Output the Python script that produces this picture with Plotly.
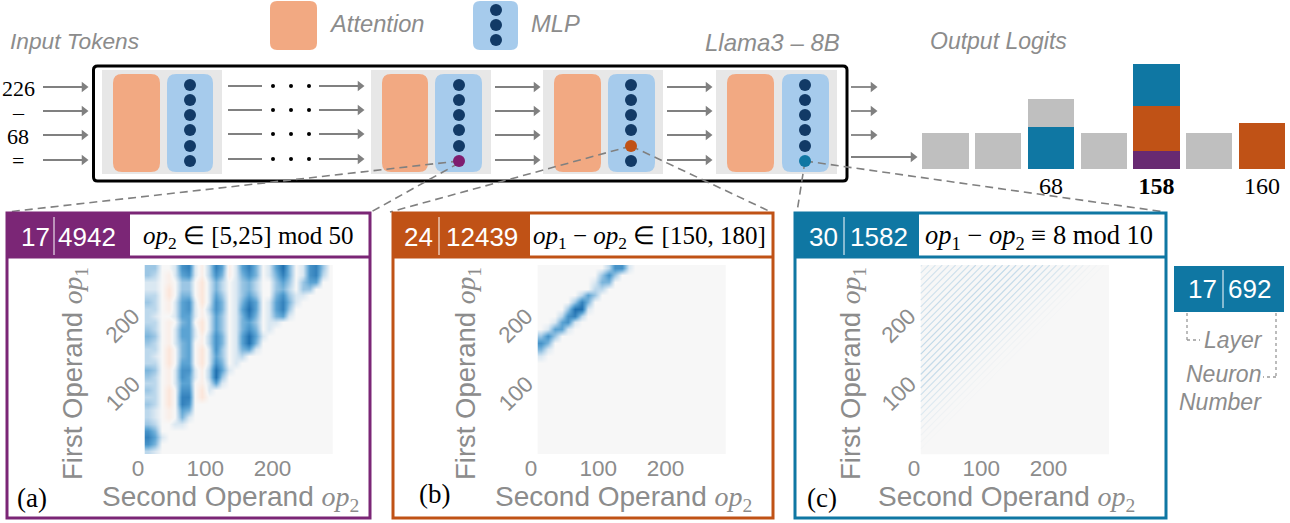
import plotly.graph_objects as go

W, H = 1290, 523

# logit bars (stack heights)
logit_pos = [0, 1, 2, 3, 4, 5, 6]
logit_purple = [0, 0, 0, 0, 1.8, 0, 0]
logit_orange = [0, 0, 0, 0, 4.5, 0, 4.6]
logit_blue = [0, 0, 4.2, 0, 4.2, 0, 0]
logit_grey = [3.6, 3.6, 2.8, 3.6, 0, 3.6, 0]
logit_tickvals = [2, 4, 6]
logit_ticktext = ['68', '<b>158</b>', '160']

# heatmap grid, op values at cell centres
op2_cells = [15, 25, 35, 45, 55, 65, 75, 85, 95, 105, 115, 125, 135, 145, 155, 165, 175, 185, 195, 205, 215, 225, 235, 245, 255, 265, 275, 285]
op1_cells = [285, 275, 265, 255, 245, 235, 225, 215, 205, 195, 185, 175, 165, 155, 145, 135, 125, 115, 105, 95, 85, 75, 65, 55, 45, 35, 25, 15]

# neuron (a), rows top to bottom, missing cells on the right are 0
neuron_a = [
    [3, 3, 0, 0, 1, 6, 7, 1, -1, 2, 7, 5, -1, 1, 5, 7, 4, 0, 1, 5, 8, 4, 0, 1, 6, 7, 3],
    [3, 2, 0, -1, 1, 5, 6, 1, -1, 2, 6, 4, -1, 1, 4, 6, 4, 0, 1, 4, 7, 4, 0, 1, 6, 7, 2],
    [1, 1, 0, -1, 0, 3, 3, 0, -2, 1, 4, 2, 0, 1, 3, 4, 2, 0, 0, 3, 5, 3, 0, 3, 5, 5],
    [1, 1, 0, -2, 0, 3, 3, 0, -2, 1, 4, 2, 0, 1, 3, 4, 2, 0, 0, 3, 4, 2, 0, 3, 3],
    [2, 2, 0, -2, 0, 4, 4, 0, -2, 1, 5, 3, 0, 1, 3, 5, 3, 0, 0, 4, 6, 3, 1, 1],
    [3, 2, 0, -1, 1, 5, 6, 1, -2, 1, 6, 4, 0, 1, 4, 7, 5, 0, 1, 5, 7, 4, 1],
    [2, 2, 0, -1, 1, 5, 6, 1, -1, 2, 6, 4, 0, 1, 5, 8, 5, 0, 1, 5, 7, 3],
    [2, 1, 0, 0, 1, 5, 5, 1, -1, 1, 5, 3, 0, 1, 4, 7, 4, 0, 1, 4, 5, 1],
    [2, 2, 0, -1, 0, 4, 5, 0, -2, 1, 5, 3, 0, 1, 4, 5, 3, 0, 1, 1],
    [3, 2, 0, -1, 1, 5, 5, 1, -2, 1, 5, 3, 0, 1, 4, 6, 4, 0, 1],
    [4, 3, 0, -1, 1, 5, 5, 1, -1, 2, 6, 4, 0, 1, 5, 8, 5, 1],
    [3, 2, 0, -1, 1, 4, 5, 0, -1, 2, 6, 4, 0, 1, 5, 8, 4],
    [2, 2, 0, -2, 0, 4, 5, 0, -2, 1, 6, 3, 0, 1, 4, 5, 1],
    [2, 1, 0, -2, 0, 4, 5, 0, -2, 1, 5, 3, 0, 1, 2],
    [2, 2, 0, -2, 0, 5, 5, 0, -2, 1, 6, 4, 0, 1],
    [4, 3, 0, -1, 1, 6, 6, 1, -1, 2, 8, 5, 1],
    [3, 2, 0, -1, 1, 6, 5, 1, -1, 2, 8, 3],
    [2, 2, 0, -1, 1, 5, 5, 0, -1, 1, 5, 1],
    [3, 2, 0, -2, 0, 6, 6, 0, -2, 1],
    [2, 2, 0, -2, 0, 7, 7, 0, -2],
    [3, 2, 0, -2, 0, 7, 6, 0],
    [2, 1, 0, -1, 0, 5, 4],
    [2, 1, 0, -1, 0, 4, 1],
    [3, 2, 0, 0, 1, 1],
    [6, 4, 0, 0],
    [7, 5, 1],
    [6, 4],
    [2, 1],
]

# neuron (b)
neuron_b = [
    [0, 0, 0, 0, 0, 0, 0, 0, 0, 0, 2, 6, 6, 1],
    [0, 0, 0, 0, 0, 0, 0, 0, 0, 3, 6, 3],
    [0, 0, 0, 0, 0, 0, 0, 0, 1, 4, 4],
    [0, 0, 0, 0, 0, 0, 0, 0, 2, 2],
    [0, 0, 0, 0, 0, 0, 2, 5, 3],
    [0, 0, 0, 0, 0, 3, 7, 4],
    [0, 0, 0, 0, 3, 8, 8, 1],
    [0, 0, 0, 2, 6, 7, 2],
    [0, 0, 1, 5, 6, 1],
    [0, 1, 5, 5, 1],
    [3, 6, 3],
    [6, 4],
    [4, 1],
    [1],
    [], [], [], [], [], [], [], [], [], [], [], [], [], [],
]

# neuron (c), op1 - op2 of each stripe and how strong it looks
stripe_offsets = [8, 18, 28, 38, 48, 58, 68, 78, 88, 98, 108, 118, 128, 138, 148, 158, 168, 178, 188, 198, 208, 218, 228, 238, 248, 258, 268, 278]
stripe_strength = [0.02, 0.03, 0.05, 0.09, 0.13, 0.17, 0.2, 0.23, 0.26, 0.3, 0.32, 0.32, 0.3, 0.32, 0.36, 0.32, 0.32, 0.3, 0.28, 0.32, 0.28, 0.26, 0.24, 0.24, 0.24, 0.2, 0.2, 0.17]

GREY = '#8c8c8c'
ARROW = '#808080'
PURPLE = '#7b2676'
ORANGE = '#c05216'
BLUE = '#0f77a3'
NAVY = '#123a66'
ATT = '#f2a982'
MLP = '#a6cbec'
SANS = 'Liberation Sans'
SERIF = 'Liberation Serif'
HEAT = [[0, '#e88050'], [0.4, '#fce6da'], [0.5, '#f7f7f7'], [0.6, '#bcd8ec'], [0.75, '#5ba3d3'], [0.9, '#1f70b0'], [1, '#0a5a9c']]


def dom_x(a, b):
    return [a / W, b / W]


def dom_y(top, bottom):
    return [1 - bottom / H, 1 - top / H]


def rrect(x0, y0, x1, y1, r, fill, line=None, width=0):
    p = (f'M {x0+r} {y0} L {x1-r} {y0} Q {x1} {y0} {x1} {y0+r} L {x1} {y1-r} Q {x1} {y1} {x1-r} {y1} '
         f'L {x0+r} {y1} Q {x0} {y1} {x0} {y1-r} L {x0} {y0+r} Q {x0} {y0} {x0+r} {y0} Z')
    return dict(type='path', path=p, fillcolor=fill, line=dict(color=line or fill, width=width), layer='below', xref='x', yref='y')


def rect(x0, y0, x1, y1, fill=None, line=None, width=0):
    return dict(type='rect', x0=x0, y0=y0, x1=x1, y1=y1, fillcolor=fill or 'rgba(0,0,0,0)',
                line=dict(color=line or 'rgba(0,0,0,0)', width=width), layer='below', xref='x', yref='y')


def seg(x0, y0, x1, y1, color, width, dash='solid'):
    return dict(type='line', x0=x0, y0=y0, x1=x1, y1=y1, line=dict(color=color, width=width, dash=dash), layer='below', xref='x', yref='y')


def txt(x, y, s, size=22, color=GREY, family=SANS, angle=0, anchor='center'):
    return dict(x=x, y=y, xref='x', yref='y', text=s, showarrow=False, xanchor=anchor, yanchor='middle', textangle=angle,
                font=dict(size=size, color=color, family=family))


fig = go.Figure()
shapes = []
notes = []

# legend swatches
shapes += [rrect(270, 1, 317, 50, 7, ATT), rrect(473, 1, 518, 50, 7, MLP)]

# blocks
block_grey = [(102, 222), (371, 491), (543, 663), (716, 837)]
block_att = [(113, 160), (382, 428), (554, 601), (727, 774)]
block_mlp = [(167, 213), (435, 482), (608, 655), (782, 829)]
for g, a, m in zip(block_grey, block_att, block_mlp):
    shapes.append(rect(g[0], 70, g[1], 174, fill='#e7e7e7'))
    shapes.append(rrect(a[0], 74, a[1], 172, 9, ATT))
    shapes.append(rrect(m[0], 74, m[1], 172, 9, MLP))
shapes.append(rrect(93.5, 66, 847, 181, 4, 'rgba(0,0,0,0)', line='#000000', width=3))

# dashed call-outs
DASH = '8px,5px'
for x0, y0, x1, y1 in [(459, 161, 7, 212), (459, 163, 371, 212), (631, 146, 390, 212), (631, 146, 771, 212), (805, 161, 797, 212), (805, 161, 1165, 212)]:
    shapes.append(seg(x0, y0, x1, y1, ARROW, 1.6, DASH))

# panels
panels = [(7, 370, 130, 54, PURPLE, '17', 35, '4942', 87, '<i>op</i><sub>2</sub> ∈ [5,25] mod 50', 248, 25),
          (393, 773, 530, 439, ORANGE, '24', 418, '12439', 482, '<i>op</i><sub>1</sub> − <i>op</i><sub>2</sub> ∈ [150, 180]', 649, 25),
          (795, 1166, 919, 844, BLUE, '30', 823, '1582', 879, '<i>op</i><sub>1</sub> − <i>op</i><sub>2</sub> ≡ 8 mod 10', 1039, 26.5)]
for x0, x1, xh, xd, col, layer, xl, neuron, xn, formula, xf, fs in panels:
    shapes.append(rect(x0, 213, x1, 518, line=col, width=3))
    shapes.append(rect(x0, 213, xh, 257, fill=col))
    shapes.append(seg(x0, 257, x1, 257, col, 3))
    shapes.append(seg(xd, 217, xd, 255, '#ffffff', 1))
    notes.append(txt(xl, 237, layer, 26, '#ffffff'))
    notes.append(txt(xn, 237, neuron, 26, '#ffffff'))
    notes.append(txt(xf, 237, formula, fs, '#000000', SERIF))

# side key
shapes.append(rect(1174, 266, 1284, 312, fill=BLUE))
shapes.append(seg(1223, 270, 1223, 308, '#ffffff', 1))
shapes.append(seg(1187, 313, 1187, 340, '#999999', 1.3, 'dot'))
shapes.append(seg(1187, 340, 1200, 340, '#999999', 1.3, 'dot'))
shapes.append(seg(1276, 313, 1276, 377, '#999999', 1.3, 'dot'))
shapes.append(seg(1276, 377, 1263, 377, '#999999', 1.3, 'dot'))
notes += [txt(1202, 289, '17', 26, '#ffffff'), txt(1249, 289, '692', 26, '#ffffff'),
          txt(1233, 340, '<i>Layer</i>', 23), txt(1223, 374, '<i>Neuron</i>', 23), txt(1220, 402, '<i>Number</i>', 23)]

# top labels
notes += [txt(8, 41, '<i>Input Tokens</i>', 22.7, anchor='left'), txt(327, 24, '<i>Attention</i>', 23.7, anchor='left'),
          txt(529, 24, '<i>MLP</i>', 23.7, anchor='left'), txt(703, 42, '<i>Llama3 – 8B</i>', 24, anchor='left'),
          txt(928, 41, '<i>Output Logits</i>', 23, anchor='left')]
for y, s in zip([88, 112, 136, 160], ['226', '–', '68', '=']):
    notes.append(txt(18, y, s, 22, '#000000', SERIF))

# arrows between the blocks
rows = [87, 111, 135, 160]
arrows = []
for y in rows:
    arrows += [(43, 88, y), (228, 262, y - 1), (319, 364, y - 1), (495, 540, y), (667, 712, y)]
for y in rows[:3]:
    arrows.append((851, 877, y))
arrows.append((851, 917, 157))
head_x, head_y = [], []
for x0, x1, y in arrows:
    if x1 == 262:
        shapes.append(seg(x0, y, x1, y, ARROW, 1.8))
        continue
    shapes.append(seg(x0, y, x1 - 4, y, ARROW, 1.8))
    head_x.append(x1 - 4)
    head_y.append(y)
fig.add_trace(go.Scatter(x=head_x, y=head_y, mode='markers', marker=dict(symbol='triangle-right', size=9, color=ARROW, line=dict(width=0)),
                         xaxis='x', yaxis='y', showlegend=False, hoverinfo='skip'))

# panel texts
for xt, yt, xo, col in [(230, 74, 32, 'a'), (623.5, 467, 434, 'b'), (1006, 852, 822, 'c')]:
    op = '<span style="font-family:Liberation Serif"><i>op</i><sub>%d</sub></span>'
    notes.append(txt(xt, 498, 'Second Operand ' + op % 2, 28))
    notes.append(txt(yt, 374, 'First Operand ' + op % 1, 27.5, angle=-90))
    notes.append(txt(xo, 498 if col != 'b' else 494, f'({col})', 27, '#000000', SERIF))

# y tick labels sit centred on their tick, rotated
for x0px, ya in [(138, 'y2'), (531, 'y3'), (914, 'y4')]:
    for v in [100, 200]:
        notes.append(dict(x=(x0px - 15) / W, y=v, xref='paper', yref=ya, text=str(v), showarrow=False, textangle=-45,
                          xanchor='center', yanchor='middle', font=dict(size=22.5, color=GREY, family=SANS)))

# neurons
neuron_ys = [85, 100, 115, 130, 146, 161]
n_x, n_y, n_c = [], [], []
for nx, hot_row, hot_col in [(190, None, None), (459, 5, '#7f1d6f'), (631, 4, ORANGE), (805, 5, BLUE)]:
    for i, ny in enumerate(neuron_ys):
        n_x.append(nx)
        n_y.append(ny)
        n_c.append(hot_col if i == hot_row else NAVY)
for ny in [10, 25, 40]:
    n_x.append(496)
    n_y.append(ny)
    n_c.append(NAVY)
fig.add_trace(go.Scatter(x=n_x, y=n_y, mode='markers', marker=dict(size=12, color=n_c), xaxis='x', yaxis='y', showlegend=False, hoverinfo='skip'))

# the dots between block 1 and 2
dots_x, dots_y = [], []
for y in rows:
    for x in [273, 291, 309]:
        dots_x.append(x)
        dots_y.append(y - 1)
fig.add_trace(go.Scatter(x=dots_x, y=dots_y, mode='markers', marker=dict(size=4, color='#000000'), xaxis='x', yaxis='y', showlegend=False, hoverinfo='skip'))

# logits
for vals, col in [(logit_purple, '#682a72'), (logit_orange, ORANGE), (logit_blue, BLUE), (logit_grey, '#bfbfbf')]:
    fig.add_trace(go.Bar(x=logit_pos, y=vals, width=0.88, marker=dict(color=col, line=dict(width=0)), xaxis='x5', yaxis='y5', showlegend=False))


def padded(rows_in):
    return [r + [0] * (len(op2_cells) - len(r)) for r in rows_in][::-1]


# heatmaps
for z, xa, ya in [(neuron_a, 'x2', 'y2'), (neuron_b, 'x3', 'y3')]:
    fig.add_trace(go.Heatmap(x=op2_cells, y=op1_cells[::-1], z=padded(z), zmin=-10, zmax=10, zsmooth='best',
                             colorscale=HEAT, showscale=False, xaxis=xa, yaxis=ya, hoverinfo='skip'))

shapes.append(dict(type='rect', x0=10, x1=295, y0=10, y1=290, xref='x4', yref='y4', fillcolor='#f7f7f7', line=dict(width=0), layer='below'))
for off, s in zip(stripe_offsets, stripe_strength):
    fig.add_trace(go.Scatter(x=[10, 290 - off], y=[10 + off, 290], mode='lines', line=dict(color=f'rgba(90,160,205,{s})', width=1.1),
                             xaxis='x4', yaxis='y4', showlegend=False, hoverinfo='skip'))

hidden = dict(visible=False, showgrid=False, zeroline=False)


def heat_x(x0px):
    return dict(domain=dom_x(x0px, x0px + 290 * 0.672), range=[0, 290], anchor='free', position=1 - 452 / H, tickvals=[0, 100, 200], ticks='',
                showgrid=False, zeroline=False, showline=False, tickfont=dict(size=22.5, color=GREY, family=SANS))


def heat_y(x0px):
    return dict(domain=dom_y(265, 461), range=[0, 290], anchor='free', position=x0px / W, showticklabels=False, ticks='',
                showgrid=False, zeroline=False, showline=False)


fig.update_layout(
    width=W, height=H, margin=dict(l=0, r=0, t=0, b=0, autoexpand=False), paper_bgcolor='#ffffff', plot_bgcolor='rgba(0,0,0,0)',
    autosize=False, showlegend=False, barmode='stack', shapes=shapes, annotations=notes,
    xaxis=dict(domain=[0, 1], range=[0, W], **hidden),
    yaxis=dict(domain=[0, 1], range=[H, 0], **hidden),
    xaxis2=heat_x(138), yaxis2=heat_y(138),
    xaxis3=heat_x(531), yaxis3=heat_y(531),
    xaxis4=heat_x(914), yaxis4=heat_y(914),
    xaxis5=dict(domain=dom_x(919.1, 1288.4), range=[-0.5, 6.5], anchor='y5', tickvals=logit_tickvals, ticktext=logit_ticktext,
                showgrid=False, zeroline=False, showline=False, tickfont=dict(size=24, color='#000000', family=SERIF)),
    yaxis5=dict(domain=dom_y(64, 169), range=[0, 10.5], anchor='x5', visible=False, showgrid=False, zeroline=False),
)

fig.write_html('out.html', config={'displayModeBar': False}, post_script="document.body.style.margin='0';document.body.style.overflow='hidden';")
